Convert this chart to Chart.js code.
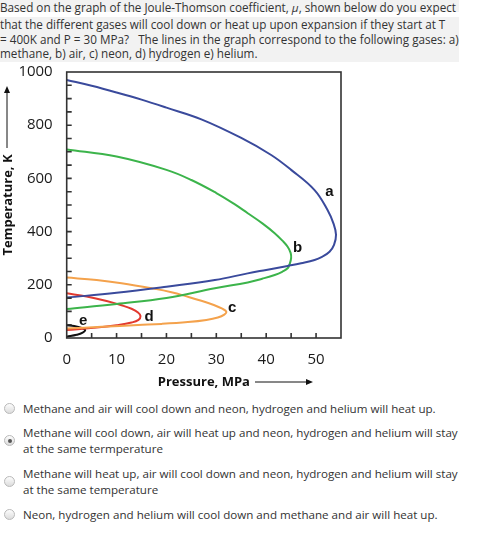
<!DOCTYPE html>
<html lang="en">
<head>
  <meta charset="UTF-8">
  <title>Joule-Thomson inversion curves</title>
  <script src="https://cdn.jsdelivr.net/npm/chart.js"></script>
  <style>
    body { margin: 0; background: #fff; font-family: 'Open Sans', sans-serif; color: #333; }
    .page { position: relative; width: 489px; height: 536px; overflow: hidden; }
    .q { position: absolute; left: 0; font-size: 11.7px; white-space: nowrap; background: #f2f2f2; }
    #chartBox { position: absolute; left: 0; top: 60px; width: 350px; height: 335px; }
    .opt { position: absolute; left: 23px; font-size: 11.6px; line-height: 16px; white-space: nowrap; }
    .radio { position: absolute; left: 4px; width: 11px; height: 11px; border-radius: 50%;
             border: 1px solid #b9b9b9; background: linear-gradient(#fdfdfd, #dcdcdc); box-sizing: border-box; }
    .radio.on::after { content: ''; position: absolute; left: 2.5px; top: 2.5px; width: 4px; height: 4px;
             border-radius: 50%; background: #555; }
  </style>
</head>
<body>
<div class="page">
  <div class="q" style="top:0;height:12px;line-height:15px;width:459px;">Based on the graph of the Joule-Thomson coefficient, <i>μ</i>, shown below do you expect</div>
  <div class="q" style="top:17px;height:45px;line-height:14.5px;width:459px;">
    that the different gases will cool down or heat up upon expansion if they start at T<br>
    = 400K and P = 30 MPa?&nbsp;&nbsp; The lines in the graph correspond to the following gases: a)<br>
    methane, b) air, c) neon, d) hydrogen e) helium.
  </div>

  <div id="chartBox"><canvas id="jtCanvas"></canvas></div>

  <span class="radio" style="top:403px"></span>
  <div class="opt" style="top:401px">Methane and air will cool down and neon, hydrogen and helium will heat up.</div>
  <span class="radio on" style="top:435px"></span>
  <div class="opt" style="top:425px">Methane will cool down, air will heat up and neon, hydrogen and helium will stay<br>at the same termperature</div>
  <span class="radio" style="top:476px"></span>
  <div class="opt" style="top:466px">Methane will heat up, air will cool down and neon, hydrogen and helium will stay<br>at the same temperature</div>
  <span class="radio" style="top:509px"></span>
  <div class="opt" style="top:507px">Neon, hydrogen and helium will cool down and methane and air will heat up.</div>
</div>

<script>
  // inversion curves, pressure in MPa / temperature in K
  var methaneP = [0, 5, 10, 15, 20, 27, 35, 41, 45, 49.7, 52.3, 53.5, 54, 53.6, 52.7, 51.2, 49.7, 47, 44.3, 40, 36.3, 29.7, 20, 10, 0];
  var methaneT = [970, 948, 923, 896, 866, 822, 752, 688, 632, 556, 481, 430, 388, 350, 324, 305, 293, 281, 271, 256, 243, 218, 193, 170, 152];
  var airP = [0, 10, 20, 25, 30, 33.5, 36.3, 39.3, 41.7, 43.3, 44.3, 44.9, 45, 44.7, 44.3, 43.2, 41.7, 39.2, 36.3, 29.7, 20, 10, 0];
  var airT = [709, 682, 632, 594, 545, 505, 469, 430, 394, 365, 343, 320, 300, 278, 262, 249, 237, 223, 209, 187, 150, 128, 109];
  var neonP = [0, 6, 11, 17, 21, 24.3, 27, 29.5, 31.2, 32, 31.6, 30.3, 28, 24.3, 19, 14.3, 7, 0];
  var neonT = [227, 218, 206, 187, 172, 155, 140, 124, 110, 99, 88, 77, 68, 60, 53, 49, 42, 36];
  var hydrogenP = [0, 4, 8, 11, 13, 14.3, 14.8, 14.4, 13, 10, 6, 0];
  var hydrogenT = [168, 156, 139, 123, 110, 96, 82, 68, 58, 48, 39, 30];
  var heliumP = [0, 1.5, 3, 3.7, 3.2, 2, 0];
  var heliumT = [48, 45, 38, 30, 20, 12, 5];

  var gasNames = ['a', 'b', 'c', 'd', 'e'];
  var labelP = [52.7, 46.3, 33.2, 16.5, 3.3];
  var labelT = [550, 337, 114, 80, 64];

  var xTicks = [0, 10, 20, 30, 40, 50];
  var yTicks = [0, 200, 400, 600, 800, 1000];

  function pts(ps, ts) {
    return ps.map(function (p, i) { return {x: p, y: ts[i]}; });
  }

  function curve(ps, ts, color) {
    return {
      data: pts(ps, ts),
      showLine: true,
      borderColor: color,
      borderWidth: 2,
      pointRadius: 0,
      tension: 0.4,
      fill: false
    };
  }

  var decor = {
    id: 'decor',
    afterDatasetsDraw: function (chart) {
      var c = chart.ctx, a = chart.chartArea, x = chart.scales.x, y = chart.scales.y;
      c.save();
      c.strokeStyle = '#333';
      c.lineWidth = 1.6;
      c.strokeRect(a.left, a.top, a.right - a.left, a.bottom - a.top);

      // small ticks pointing into the plot
      c.beginPath();
      x.ticks.forEach(function (t) {
        if (t.value <= 0 || t.value >= x.max) return;
        var px = x.getPixelForValue(t.value);
        c.moveTo(px, a.bottom);
        c.lineTo(px, a.bottom - 5);
      });
      y.ticks.forEach(function (t) {
        if (t.value <= 0 || t.value >= y.max) return;
        var py = y.getPixelForValue(t.value);
        c.moveTo(a.left, py);
        c.lineTo(a.left + 5, py);
      });
      c.stroke();

      // curve letters
      c.fillStyle = '#111';
      c.font = 'bold 15px Arial';
      c.textAlign = 'center';
      c.textBaseline = 'middle';
      gasNames.forEach(function (n, i) {
        c.fillText(n, x.getPixelForValue(labelP[i]), y.getPixelForValue(labelT[i]));
      });

      // arrows next to the axis titles
      c.strokeStyle = '#111';
      c.fillStyle = '#111';
      c.lineWidth = 1;
      c.beginPath();
      c.moveTo(7, 88); c.lineTo(7, 31);
      c.moveTo(255, 322); c.lineTo(308, 322);
      c.stroke();
      c.beginPath();
      c.moveTo(7, 26); c.lineTo(4, 33); c.lineTo(10, 33); c.closePath();
      c.moveTo(313, 322); c.lineTo(306, 319); c.lineTo(306, 325); c.closePath();
      c.fill();
      c.restore();
    }
  };

  var canvasCtx = document.getElementById('jtCanvas').getContext('2d');
  window.myJtChart = new Chart(canvasCtx, {
    type: 'scatter',
    data: {
      datasets: [
        curve(methaneP, methaneT, '#3a4a9c'),
        curve(airP, airT, '#3cb44b'),
        curve(neonP, neonT, '#f4a24c'),
        curve(hydrogenP, hydrogenT, '#e2392f'),
        curve(heliumP, heliumT, '#111111')
      ]
    },
    options: {
      responsive: true,
      maintainAspectRatio: false,
      animation: false,
      layout: { padding: { top: 12, right: 9, left: 0, bottom: 0 } },
      plugins: {
        legend: { display: false },
        tooltip: { enabled: false }
      },
      scales: {
        x: {
          type: 'linear',
          min: 0,
          max: 55,
          // fixed axis band, and no extra edge padding from the tick labels
          afterFit: function (s) { s.height = 57; s.paddingLeft = 0; s.paddingRight = 0; },
          grid: { drawOnChartArea: false, drawTicks: false },
          border: { display: false },
          ticks: {
            stepSize: 5,
            autoSkip: false,
            maxRotation: 0,
            padding: 13,
            color: '#1a1a1a',
            font: { family: 'Open Sans', size: 15 },
            callback: function (v) { return xTicks.indexOf(v) >= 0 ? String(v) : ''; }
          },
          title: {
            display: true,
            text: 'Pressure, MPa',
            color: '#111',
            padding: { top: 0, bottom: 5 },
            font: { family: 'Open Sans', size: 13, weight: 'bold' }
          }
        },
        y: {
          type: 'linear',
          min: 0,
          max: 1000,
          afterFit: function (s) { s.width = 66.7; s.paddingTop = 0; s.paddingBottom = 0; },
          grid: { drawOnChartArea: false, drawTicks: false },
          border: { display: false },
          ticks: {
            stepSize: 50,
            autoSkip: false,
            padding: 14,
            color: '#1a1a1a',
            font: { family: 'Open Sans', size: 15 },
            callback: function (v) { return yTicks.indexOf(v) >= 0 ? String(v) : ''; }
          },
          title: {
            display: true,
            text: 'Temperature, K',
            color: '#111',
            padding: { top: 0, bottom: 0 },
            font: { family: 'Open Sans', size: 13, weight: 'bold' }
          }
        }
      }
    },
    plugins: [decor]
  });
</script>
</body>
</html>
